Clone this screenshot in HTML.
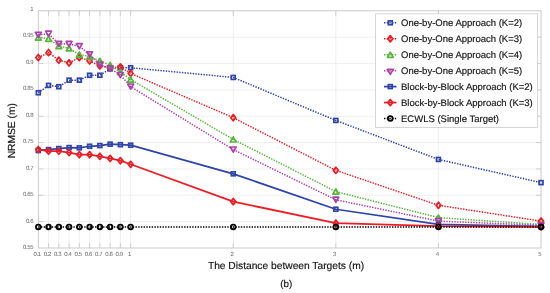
<!DOCTYPE html>
<html><head><meta charset="utf-8"><title>NRMSE plot</title>
<style>html,body{margin:0;padding:0;background:#fff;width:550px;height:293px;overflow:hidden}svg{display:block}text{text-rendering:geometricPrecision}</style>
</head><body>
<svg width="550" height="293" viewBox="0 0 550 293">
<rect width="550" height="293" fill="#fff"/>
<path d="M48.56 10.80V248.00M58.82 10.80V248.00M69.08 10.80V248.00M79.34 10.80V248.00M89.60 10.80V248.00M99.86 10.80V248.00M110.12 10.80V248.00M120.38 10.80V248.00M130.64 10.80V248.00M233.24 10.80V248.00M335.84 10.80V248.00M438.44 10.80V248.00M38.30 221.64H541.04M38.30 195.28H541.04M38.30 168.93H541.04M38.30 142.58H541.04M38.30 116.22H541.04M38.30 89.86H541.04M38.30 63.51H541.04M38.30 37.15H541.04" stroke="#e4e4e4" stroke-width="0.6" fill="none"/>
<path d="M48.56 248.00v-5M48.56 10.80v5M58.82 248.00v-5M58.82 10.80v5M69.08 248.00v-5M69.08 10.80v5M79.34 248.00v-5M79.34 10.80v5M89.60 248.00v-5M89.60 10.80v5M99.86 248.00v-5M99.86 10.80v5M110.12 248.00v-5M110.12 10.80v5M120.38 248.00v-5M120.38 10.80v5M130.64 248.00v-5M130.64 10.80v5M233.24 248.00v-5M233.24 10.80v5M335.84 248.00v-5M335.84 10.80v5M438.44 248.00v-5M438.44 10.80v5M38.30 221.64h5M541.04 221.64h-5M38.30 195.28h5M541.04 195.28h-5M38.30 168.93h5M541.04 168.93h-5M38.30 142.58h5M541.04 142.58h-5M38.30 116.22h5M541.04 116.22h-5M38.30 89.86h5M541.04 89.86h-5M38.30 63.51h5M541.04 63.51h-5M38.30 37.15h5M541.04 37.15h-5" stroke="#b8b8b8" stroke-width="0.6" fill="none"/>
<rect x="38.30" y="10.80" width="502.74" height="237.19" fill="none" stroke="#c4c4c4" stroke-width="0.9"/>
<g font-family="Liberation Sans, Arial, sans-serif" font-size="6" fill="#666" letter-spacing="-0.4"><text x="37.05" y="255.50" text-anchor="middle">0.1</text><text x="47.31" y="255.50" text-anchor="middle">0.2</text><text x="57.57" y="255.50" text-anchor="middle">0.3</text><text x="67.83" y="255.50" text-anchor="middle">0.4</text><text x="78.09" y="255.50" text-anchor="middle">0.5</text><text x="88.35" y="255.50" text-anchor="middle">0.6</text><text x="98.61" y="255.50" text-anchor="middle">0.7</text><text x="108.87" y="255.50" text-anchor="middle">0.8</text><text x="119.13" y="255.50" text-anchor="middle">0.9</text><text x="129.39" y="255.50" text-anchor="middle">1</text><text x="231.99" y="255.50" text-anchor="middle">2</text><text x="334.59" y="255.50" text-anchor="middle">3</text><text x="437.19" y="255.50" text-anchor="middle">4</text><text x="539.79" y="255.50" text-anchor="middle">5</text><text x="33.10" y="248.99" text-anchor="end">0.55</text><text x="33.10" y="222.52" text-anchor="end">0.6</text><text x="33.10" y="196.06" text-anchor="end">0.65</text><text x="33.10" y="169.59" text-anchor="end">0.7</text><text x="33.10" y="143.13" text-anchor="end">0.75</text><text x="33.10" y="116.66" text-anchor="end">0.8</text><text x="33.10" y="90.19" text-anchor="end">0.85</text><text x="33.10" y="63.73" text-anchor="end">0.9</text><text x="33.10" y="37.26" text-anchor="end">0.95</text><text x="33.10" y="10.80" text-anchor="end">1</text></g>
<path d="M38.30 92.76L48.56 85.38L58.82 86.70L69.08 80.17L79.34 80.17L89.60 75.26L99.86 75.26L110.12 68.89L120.38 67.73L130.64 67.73L233.24 77.43L335.84 120.44L438.44 159.44L541.04 182.63" fill="none" stroke="#2e44a8" stroke-width="1.5" stroke-dasharray="1.4 1.3"/>
<rect x="36.35" y="90.81" width="3.90" height="3.90" fill="none" stroke="#2e44a8" stroke-width="1.7"/><rect x="46.61" y="83.43" width="3.90" height="3.90" fill="none" stroke="#2e44a8" stroke-width="1.7"/><rect x="56.87" y="84.75" width="3.90" height="3.90" fill="none" stroke="#2e44a8" stroke-width="1.7"/><rect x="67.13" y="78.22" width="3.90" height="3.90" fill="none" stroke="#2e44a8" stroke-width="1.7"/><rect x="77.39" y="78.22" width="3.90" height="3.90" fill="none" stroke="#2e44a8" stroke-width="1.7"/><rect x="87.65" y="73.31" width="3.90" height="3.90" fill="none" stroke="#2e44a8" stroke-width="1.7"/><rect x="97.91" y="73.31" width="3.90" height="3.90" fill="none" stroke="#2e44a8" stroke-width="1.7"/><rect x="108.17" y="66.94" width="3.90" height="3.90" fill="none" stroke="#2e44a8" stroke-width="1.7"/><rect x="118.43" y="65.78" width="3.90" height="3.90" fill="none" stroke="#2e44a8" stroke-width="1.7"/><rect x="128.69" y="65.78" width="3.90" height="3.90" fill="none" stroke="#2e44a8" stroke-width="1.7"/><rect x="231.29" y="75.48" width="3.90" height="3.90" fill="none" stroke="#2e44a8" stroke-width="1.7"/><rect x="333.89" y="118.49" width="3.90" height="3.90" fill="none" stroke="#2e44a8" stroke-width="1.7"/><rect x="436.49" y="157.49" width="3.90" height="3.90" fill="none" stroke="#2e44a8" stroke-width="1.7"/><rect x="539.09" y="180.68" width="3.90" height="3.90" fill="none" stroke="#2e44a8" stroke-width="1.7"/>
<path d="M38.30 57.55L48.56 52.60L58.82 60.19L69.08 62.88L79.34 57.55L89.60 60.98L99.86 65.88L110.12 67.73L120.38 66.99L130.64 73.42L233.24 117.70L335.84 170.35L438.44 205.30L541.04 221.11" fill="none" stroke="#ec1c24" stroke-width="1.5" stroke-dasharray="1.4 1.3"/>
<path d="M38.30 54.45L40.80 57.55L38.30 60.65L35.80 57.55Z" fill="none" stroke="#ec1c24" stroke-width="1.7" stroke-linejoin="round"/><path d="M48.56 49.50L51.06 52.60L48.56 55.70L46.06 52.60Z" fill="none" stroke="#ec1c24" stroke-width="1.7" stroke-linejoin="round"/><path d="M58.82 57.09L61.32 60.19L58.82 63.29L56.32 60.19Z" fill="none" stroke="#ec1c24" stroke-width="1.7" stroke-linejoin="round"/><path d="M69.08 59.78L71.58 62.88L69.08 65.98L66.58 62.88Z" fill="none" stroke="#ec1c24" stroke-width="1.7" stroke-linejoin="round"/><path d="M79.34 54.45L81.84 57.55L79.34 60.65L76.84 57.55Z" fill="none" stroke="#ec1c24" stroke-width="1.7" stroke-linejoin="round"/><path d="M89.60 57.88L92.10 60.98L89.60 64.08L87.10 60.98Z" fill="none" stroke="#ec1c24" stroke-width="1.7" stroke-linejoin="round"/><path d="M99.86 62.78L102.36 65.88L99.86 68.98L97.36 65.88Z" fill="none" stroke="#ec1c24" stroke-width="1.7" stroke-linejoin="round"/><path d="M110.12 64.63L112.62 67.73L110.12 70.83L107.62 67.73Z" fill="none" stroke="#ec1c24" stroke-width="1.7" stroke-linejoin="round"/><path d="M120.38 63.89L122.88 66.99L120.38 70.09L117.88 66.99Z" fill="none" stroke="#ec1c24" stroke-width="1.7" stroke-linejoin="round"/><path d="M130.64 70.32L133.14 73.42L130.64 76.52L128.14 73.42Z" fill="none" stroke="#ec1c24" stroke-width="1.7" stroke-linejoin="round"/><path d="M233.24 114.60L235.74 117.70L233.24 120.80L230.74 117.70Z" fill="none" stroke="#ec1c24" stroke-width="1.7" stroke-linejoin="round"/><path d="M335.84 167.25L338.34 170.35L335.84 173.45L333.34 170.35Z" fill="none" stroke="#ec1c24" stroke-width="1.7" stroke-linejoin="round"/><path d="M438.44 202.20L440.94 205.30L438.44 208.40L435.94 205.30Z" fill="none" stroke="#ec1c24" stroke-width="1.7" stroke-linejoin="round"/><path d="M541.04 218.01L543.54 221.11L541.04 224.21L538.54 221.11Z" fill="none" stroke="#ec1c24" stroke-width="1.7" stroke-linejoin="round"/>
<path d="M38.30 37.52L48.56 38.74L58.82 46.01L69.08 48.22L79.34 54.55L89.60 56.45L99.86 60.87L110.12 65.09L120.38 71.94L130.64 79.59L233.24 139.41L335.84 191.60L438.44 217.63L541.04 224.49" fill="none" stroke="#55b83a" stroke-width="1.5" stroke-dasharray="1.4 1.3"/>
<path d="M38.30 34.92L41.20 40.12L35.40 40.12Z" fill="none" stroke="#55b83a" stroke-width="1.7" stroke-linejoin="round"/><path d="M48.56 36.14L51.46 41.34L45.66 41.34Z" fill="none" stroke="#55b83a" stroke-width="1.7" stroke-linejoin="round"/><path d="M58.82 43.41L61.72 48.61L55.92 48.61Z" fill="none" stroke="#55b83a" stroke-width="1.7" stroke-linejoin="round"/><path d="M69.08 45.62L71.98 50.82L66.18 50.82Z" fill="none" stroke="#55b83a" stroke-width="1.7" stroke-linejoin="round"/><path d="M79.34 51.95L82.24 57.15L76.44 57.15Z" fill="none" stroke="#55b83a" stroke-width="1.7" stroke-linejoin="round"/><path d="M89.60 53.85L92.50 59.05L86.70 59.05Z" fill="none" stroke="#55b83a" stroke-width="1.7" stroke-linejoin="round"/><path d="M99.86 58.27L102.76 63.47L96.96 63.47Z" fill="none" stroke="#55b83a" stroke-width="1.7" stroke-linejoin="round"/><path d="M110.12 62.49L113.02 67.69L107.22 67.69Z" fill="none" stroke="#55b83a" stroke-width="1.7" stroke-linejoin="round"/><path d="M120.38 69.34L123.28 74.54L117.48 74.54Z" fill="none" stroke="#55b83a" stroke-width="1.7" stroke-linejoin="round"/><path d="M130.64 76.99L133.54 82.19L127.74 82.19Z" fill="none" stroke="#55b83a" stroke-width="1.7" stroke-linejoin="round"/><path d="M233.24 136.81L236.14 142.01L230.34 142.01Z" fill="none" stroke="#55b83a" stroke-width="1.7" stroke-linejoin="round"/><path d="M335.84 189.00L338.74 194.20L332.94 194.20Z" fill="none" stroke="#55b83a" stroke-width="1.7" stroke-linejoin="round"/><path d="M438.44 215.03L441.34 220.23L435.54 220.23Z" fill="none" stroke="#55b83a" stroke-width="1.7" stroke-linejoin="round"/><path d="M541.04 221.89L543.94 227.09L538.14 227.09Z" fill="none" stroke="#55b83a" stroke-width="1.7" stroke-linejoin="round"/>
<path d="M38.30 34.89L48.56 33.78L58.82 44.01L69.08 44.01L79.34 46.27L89.60 54.55L99.86 64.72L110.12 68.46L120.38 75.11L130.64 86.60L233.24 149.59L335.84 199.77L438.44 221.11L541.04 225.33" fill="none" stroke="#ad40aa" stroke-width="1.5" stroke-dasharray="1.4 1.3"/>
<path d="M38.30 37.49L41.20 32.29L35.40 32.29Z" fill="none" stroke="#ad40aa" stroke-width="1.7" stroke-linejoin="round"/><path d="M48.56 36.38L51.46 31.18L45.66 31.18Z" fill="none" stroke="#ad40aa" stroke-width="1.7" stroke-linejoin="round"/><path d="M58.82 46.61L61.72 41.41L55.92 41.41Z" fill="none" stroke="#ad40aa" stroke-width="1.7" stroke-linejoin="round"/><path d="M69.08 46.61L71.98 41.41L66.18 41.41Z" fill="none" stroke="#ad40aa" stroke-width="1.7" stroke-linejoin="round"/><path d="M79.34 48.87L82.24 43.67L76.44 43.67Z" fill="none" stroke="#ad40aa" stroke-width="1.7" stroke-linejoin="round"/><path d="M89.60 57.15L92.50 51.95L86.70 51.95Z" fill="none" stroke="#ad40aa" stroke-width="1.7" stroke-linejoin="round"/><path d="M99.86 67.32L102.76 62.12L96.96 62.12Z" fill="none" stroke="#ad40aa" stroke-width="1.7" stroke-linejoin="round"/><path d="M110.12 71.06L113.02 65.86L107.22 65.86Z" fill="none" stroke="#ad40aa" stroke-width="1.7" stroke-linejoin="round"/><path d="M120.38 77.71L123.28 72.51L117.48 72.51Z" fill="none" stroke="#ad40aa" stroke-width="1.7" stroke-linejoin="round"/><path d="M130.64 89.20L133.54 84.00L127.74 84.00Z" fill="none" stroke="#ad40aa" stroke-width="1.7" stroke-linejoin="round"/><path d="M233.24 152.19L236.14 146.99L230.34 146.99Z" fill="none" stroke="#ad40aa" stroke-width="1.7" stroke-linejoin="round"/><path d="M335.84 202.37L338.74 197.17L332.94 197.17Z" fill="none" stroke="#ad40aa" stroke-width="1.7" stroke-linejoin="round"/><path d="M438.44 223.71L441.34 218.51L435.54 218.51Z" fill="none" stroke="#ad40aa" stroke-width="1.7" stroke-linejoin="round"/><path d="M541.04 227.93L543.94 222.73L538.14 222.73Z" fill="none" stroke="#ad40aa" stroke-width="1.7" stroke-linejoin="round"/>
<path d="M38.30 150.48L48.56 149.59L58.82 148.58L69.08 147.58L79.34 147.85L89.60 146.26L99.86 145.58L110.12 144.16L120.38 144.68L130.64 145.21L233.24 173.83L335.84 209.25L438.44 224.49L541.04 226.38" fill="none" stroke="#2e44a8" stroke-width="1.75" stroke-linejoin="round"/>
<rect x="36.35" y="148.53" width="3.90" height="3.90" fill="none" stroke="#2e44a8" stroke-width="1.7"/><rect x="46.61" y="147.64" width="3.90" height="3.90" fill="none" stroke="#2e44a8" stroke-width="1.7"/><rect x="56.87" y="146.63" width="3.90" height="3.90" fill="none" stroke="#2e44a8" stroke-width="1.7"/><rect x="67.13" y="145.63" width="3.90" height="3.90" fill="none" stroke="#2e44a8" stroke-width="1.7"/><rect x="77.39" y="145.90" width="3.90" height="3.90" fill="none" stroke="#2e44a8" stroke-width="1.7"/><rect x="87.65" y="144.31" width="3.90" height="3.90" fill="none" stroke="#2e44a8" stroke-width="1.7"/><rect x="97.91" y="143.63" width="3.90" height="3.90" fill="none" stroke="#2e44a8" stroke-width="1.7"/><rect x="108.17" y="142.21" width="3.90" height="3.90" fill="none" stroke="#2e44a8" stroke-width="1.7"/><rect x="118.43" y="142.73" width="3.90" height="3.90" fill="none" stroke="#2e44a8" stroke-width="1.7"/><rect x="128.69" y="143.26" width="3.90" height="3.90" fill="none" stroke="#2e44a8" stroke-width="1.7"/><rect x="231.29" y="171.88" width="3.90" height="3.90" fill="none" stroke="#2e44a8" stroke-width="1.7"/><rect x="333.89" y="207.30" width="3.90" height="3.90" fill="none" stroke="#2e44a8" stroke-width="1.7"/><rect x="436.49" y="222.54" width="3.90" height="3.90" fill="none" stroke="#2e44a8" stroke-width="1.7"/><rect x="539.09" y="224.43" width="3.90" height="3.90" fill="none" stroke="#2e44a8" stroke-width="1.7"/>
<path d="M38.30 149.59L48.56 151.22L58.82 151.22L69.08 152.59L79.34 154.65L89.60 154.65L99.86 156.28L110.12 158.39L120.38 160.65L130.64 164.29L233.24 201.61L335.84 223.22L438.44 226.23L541.04 226.91" fill="none" stroke="#ec1c24" stroke-width="1.75" stroke-linejoin="round"/>
<path d="M38.30 146.49L40.80 149.59L38.30 152.69L35.80 149.59Z" fill="none" stroke="#ec1c24" stroke-width="1.7" stroke-linejoin="round"/><path d="M48.56 148.12L51.06 151.22L48.56 154.32L46.06 151.22Z" fill="none" stroke="#ec1c24" stroke-width="1.7" stroke-linejoin="round"/><path d="M58.82 148.12L61.32 151.22L58.82 154.32L56.32 151.22Z" fill="none" stroke="#ec1c24" stroke-width="1.7" stroke-linejoin="round"/><path d="M69.08 149.49L71.58 152.59L69.08 155.69L66.58 152.59Z" fill="none" stroke="#ec1c24" stroke-width="1.7" stroke-linejoin="round"/><path d="M79.34 151.55L81.84 154.65L79.34 157.75L76.84 154.65Z" fill="none" stroke="#ec1c24" stroke-width="1.7" stroke-linejoin="round"/><path d="M89.60 151.55L92.10 154.65L89.60 157.75L87.10 154.65Z" fill="none" stroke="#ec1c24" stroke-width="1.7" stroke-linejoin="round"/><path d="M99.86 153.18L102.36 156.28L99.86 159.38L97.36 156.28Z" fill="none" stroke="#ec1c24" stroke-width="1.7" stroke-linejoin="round"/><path d="M110.12 155.29L112.62 158.39L110.12 161.49L107.62 158.39Z" fill="none" stroke="#ec1c24" stroke-width="1.7" stroke-linejoin="round"/><path d="M120.38 157.55L122.88 160.65L120.38 163.75L117.88 160.65Z" fill="none" stroke="#ec1c24" stroke-width="1.7" stroke-linejoin="round"/><path d="M130.64 161.19L133.14 164.29L130.64 167.39L128.14 164.29Z" fill="none" stroke="#ec1c24" stroke-width="1.7" stroke-linejoin="round"/><path d="M233.24 198.51L235.74 201.61L233.24 204.71L230.74 201.61Z" fill="none" stroke="#ec1c24" stroke-width="1.7" stroke-linejoin="round"/><path d="M335.84 220.12L338.34 223.22L335.84 226.32L333.34 223.22Z" fill="none" stroke="#ec1c24" stroke-width="1.7" stroke-linejoin="round"/><path d="M438.44 223.13L440.94 226.23L438.44 229.33L435.94 226.23Z" fill="none" stroke="#ec1c24" stroke-width="1.7" stroke-linejoin="round"/><path d="M541.04 223.81L543.54 226.91L541.04 230.01L538.54 226.91Z" fill="none" stroke="#ec1c24" stroke-width="1.7" stroke-linejoin="round"/>
<path d="M38.30 226.91L48.56 226.91L58.82 226.91L69.08 226.91L79.34 226.91L89.60 226.91L99.86 226.91L110.12 226.91L120.38 226.91L130.64 226.91L233.24 226.91L335.84 226.91L438.44 226.91L541.04 226.91" fill="none" stroke="#000000" stroke-width="1.5" stroke-dasharray="1.4 1.3"/>
<circle cx="38.30" cy="226.91" r="2.35" fill="none" stroke="#000000" stroke-width="1.8"/><circle cx="48.56" cy="226.91" r="2.35" fill="none" stroke="#000000" stroke-width="1.8"/><circle cx="58.82" cy="226.91" r="2.35" fill="none" stroke="#000000" stroke-width="1.8"/><circle cx="69.08" cy="226.91" r="2.35" fill="none" stroke="#000000" stroke-width="1.8"/><circle cx="79.34" cy="226.91" r="2.35" fill="none" stroke="#000000" stroke-width="1.8"/><circle cx="89.60" cy="226.91" r="2.35" fill="none" stroke="#000000" stroke-width="1.8"/><circle cx="99.86" cy="226.91" r="2.35" fill="none" stroke="#000000" stroke-width="1.8"/><circle cx="110.12" cy="226.91" r="2.35" fill="none" stroke="#000000" stroke-width="1.8"/><circle cx="120.38" cy="226.91" r="2.35" fill="none" stroke="#000000" stroke-width="1.8"/><circle cx="130.64" cy="226.91" r="2.35" fill="none" stroke="#000000" stroke-width="1.8"/><circle cx="233.24" cy="226.91" r="2.35" fill="none" stroke="#000000" stroke-width="1.8"/><circle cx="335.84" cy="226.91" r="2.35" fill="none" stroke="#000000" stroke-width="1.8"/><circle cx="438.44" cy="226.91" r="2.35" fill="none" stroke="#000000" stroke-width="1.8"/><circle cx="541.04" cy="226.91" r="2.35" fill="none" stroke="#000000" stroke-width="1.8"/>
<rect x="375.6" y="13.8" width="162.00" height="113.80" fill="#fff" stroke="#ccc" stroke-width="0.8"/>
<path d="M384.00 22.80L396.50 22.80" fill="none" stroke="#2e44a8" stroke-width="1.5" stroke-dasharray="1.4 1.3"/>
<rect x="388.35" y="20.85" width="3.90" height="3.90" fill="none" stroke="#2e44a8" stroke-width="1.7"/>
<text x="401" y="26.15" font-family="Liberation Sans, Arial, sans-serif" font-size="9.5" fill="#111" stroke="#111" stroke-width="0.15">One-by-One Approach (K=2)</text>
<path d="M384.00 38.75L396.50 38.75" fill="none" stroke="#ec1c24" stroke-width="1.5" stroke-dasharray="1.4 1.3"/>
<path d="M390.30 35.65L392.80 38.75L390.30 41.85L387.80 38.75Z" fill="none" stroke="#ec1c24" stroke-width="1.7" stroke-linejoin="round"/>
<text x="401" y="42.10" font-family="Liberation Sans, Arial, sans-serif" font-size="9.5" fill="#111" stroke="#111" stroke-width="0.15">One-by-One Approach (K=3)</text>
<path d="M384.00 54.70L396.50 54.70" fill="none" stroke="#55b83a" stroke-width="1.5" stroke-dasharray="1.4 1.3"/>
<path d="M390.30 52.10L393.20 57.30L387.40 57.30Z" fill="none" stroke="#55b83a" stroke-width="1.7" stroke-linejoin="round"/>
<text x="401" y="58.05" font-family="Liberation Sans, Arial, sans-serif" font-size="9.5" fill="#111" stroke="#111" stroke-width="0.15">One-by-One Approach (K=4)</text>
<path d="M384.00 70.65L396.50 70.65" fill="none" stroke="#ad40aa" stroke-width="1.5" stroke-dasharray="1.4 1.3"/>
<path d="M390.30 74.45L393.20 69.25L387.40 69.25Z" fill="none" stroke="#ad40aa" stroke-width="1.7" stroke-linejoin="round"/>
<text x="401" y="74.00" font-family="Liberation Sans, Arial, sans-serif" font-size="9.5" fill="#111" stroke="#111" stroke-width="0.15">One-by-One Approach (K=5)</text>
<path d="M384.00 86.60L396.50 86.60" fill="none" stroke="#2e44a8" stroke-width="1.75" stroke-linejoin="round"/>
<rect x="388.35" y="84.65" width="3.90" height="3.90" fill="none" stroke="#2e44a8" stroke-width="1.7"/>
<text x="401" y="89.95" font-family="Liberation Sans, Arial, sans-serif" font-size="9.5" fill="#111" stroke="#111" stroke-width="0.15">Block-by-Block Approach (K=2)</text>
<path d="M384.00 102.55L396.50 102.55" fill="none" stroke="#ec1c24" stroke-width="1.75" stroke-linejoin="round"/>
<path d="M390.30 99.45L392.80 102.55L390.30 105.65L387.80 102.55Z" fill="none" stroke="#ec1c24" stroke-width="1.7" stroke-linejoin="round"/>
<text x="401" y="105.90" font-family="Liberation Sans, Arial, sans-serif" font-size="9.5" fill="#111" stroke="#111" stroke-width="0.15">Block-by-Block Approach (K=3)</text>
<path d="M384.00 118.50L396.50 118.50" fill="none" stroke="#000000" stroke-width="1.5" stroke-dasharray="1.4 1.3"/>
<circle cx="390.30" cy="118.50" r="2.35" fill="none" stroke="#000000" stroke-width="1.8"/>
<text x="401" y="121.85" font-family="Liberation Sans, Arial, sans-serif" font-size="9.5" fill="#111" stroke="#111" stroke-width="0.15">ECWLS (Single Target)</text>
<text x="286" y="268.9" text-anchor="middle" font-family="Liberation Sans, Arial, sans-serif" font-size="10.24" fill="#111" stroke="#111" stroke-width="0.15">The Distance between Targets (m)</text>
<text transform="translate(14.8 130.75) rotate(-90)" text-anchor="middle" font-family="Liberation Sans, Arial, sans-serif" font-size="10.24" fill="#111" stroke="#111" stroke-width="0.15">NRMSE (m)</text>
<text x="286.3" y="286.9" text-anchor="middle" font-family="Liberation Sans, Arial, sans-serif" font-size="9.8" fill="#111" stroke="#111" stroke-width="0.15">(b)</text>
</svg>
</body></html>
